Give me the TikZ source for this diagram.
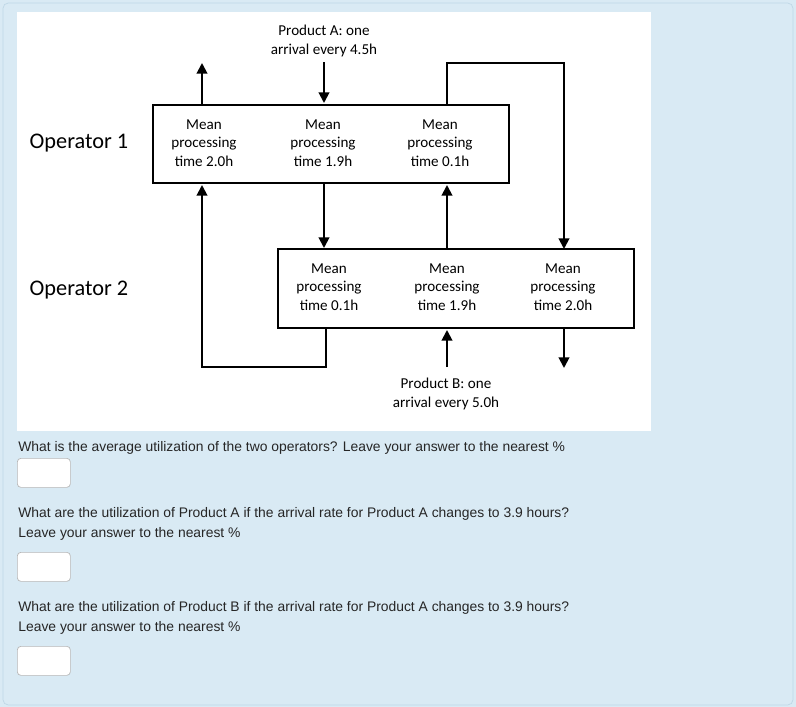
\documentclass[tikz,border=0pt]{standalone}
\usepackage{fontspec}
\setmainfont{Carlito}
\newfontfamily\qfont{Liberation Sans}
\usetikzlibrary{arrows.meta,positioning}
\definecolor{pagebg}{HTML}{D9EAF4}
\definecolor{pageedge}{HTML}{BFD7E6}
\definecolor{boxedge}{HTML}{B8B8B8}
\tikzset{
  box/.style={draw, thick, inner sep=0pt},
  txt/.style={align=center, font=\fontsize{8.6}{10.5}\selectfont, inner sep=0pt},
  oplabel/.style={font=\fontsize{12.7}{14}\selectfont, inner sep=0pt},
  flow/.style={line width=1.1pt, -{Triangle[length=6pt,width=6pt]}},
  question/.style={anchor=west, inner sep=0pt, align=left,
    font=\qfont\fontsize{7.9}{11.3}\selectfont, text=black!85},
  answer/.style={draw=boxedge, fill=white, rounded corners=2pt, minimum width=53*0.02cm,
    minimum height=29*0.02cm, anchor=north west, inner sep=0pt}
}
\begin{document}
\begin{tikzpicture}[x=0.02cm, y=-0.02cm]
    \useasboundingbox (0,0) rectangle (796,707);
    \fill[pagebg] (0,0) rectangle (796,707);
    \draw[pageedge, fill=pagebg, rounded corners=3pt] (3,3) rectangle (793,705);
    \fill[white] (17,12) rectangle (651,431);

    % operators
    \node[oplabel] (op1) at (79,143) {Operator 1};
    \node[oplabel] (op2) at (79,290) {Operator 2};

    \draw[box] (153,105) rectangle (509,183);
    \draw[box] (278,249) rectangle (634,328);

    % steps of operator 1
    \node[txt] (a1) at (204,143) {Mean\\processing\\time 2.0h};
    \node[txt] (a2) at (323,143) {Mean\\processing\\time 1.9h};
    \node[txt] (a3) at (440,143) {Mean\\processing\\time 0.1h};

    % steps of operator 2
    \node[txt] (b1) at (329,287) {Mean\\processing\\time 0.1h};
    \node[txt] (b2) at (447,287) {Mean\\processing\\time 1.9h};
    \node[txt] (b3) at (563,287) {Mean\\processing\\time 2.0h};

    % arrivals
    \node[txt] (pa) at (324,41) {Product A: one\\arrival every 4.5h};
    \node[txt] (pb) at (446,394) {Product B: one\\arrival every 5.0h};

    \coordinate (aIn) at (324,62);
    \coordinate (aTop1) at (324,103);
    \coordinate (aOut) at (202,105);
    \coordinate (aEnd) at (202,63);
    \coordinate (c1) at (324,183);
    \coordinate (c2) at (324,248);
    \coordinate (d1) at (447,249);
    \coordinate (d2) at (447,185);
    \coordinate (e1) at (447,105);
    \coordinate (e2) at (447,63);
    \coordinate (e3) at (564,63);
    \coordinate (e4) at (564,249);
    \coordinate (f1) at (326,328);
    \coordinate (f2) at (326,367);
    \coordinate (f3) at (202,367);
    \coordinate (f4) at (202,185);
    \coordinate (bIn) at (447,367);
    \coordinate (bTop) at (447,330);
    \coordinate (bOut) at (564,328);
    \coordinate (bEnd) at (564,368);

    \draw[flow] (aIn) -- (aTop1);
    \draw[flow] (aOut) -- (aEnd);
    \draw[flow] (c1) -- (c2);
    \draw[flow] (d1) -- (d2);
    \draw[flow] (e1) -- (e2) -- (e3) -- (e4);
    \draw[flow] (f1) -- (f2) -- (f3) -- (f4);
    \draw[flow] (bIn) -- (bTop);
    \draw[flow] (bOut) -- (bEnd);

    % questions
    \node[question] (q1) at (18,448) {What is the average utilization of the two operators? Leave your answer to the nearest \%};
    \node[answer] (ans1) at (17,458) {};
    \node[question] (q2) at (18,524) {What are the utilization of Product A if the arrival rate for Product A changes to 3.9 hours?\\Leave your answer to the nearest \%};
    \node[answer] (ans2) at (17,552) {};
    \node[question] (q3) at (18,618) {What are the utilization of Product B if the arrival rate for Product A changes to 3.9 hours?\\Leave your answer to the nearest \%};
    \node[answer] (ans3) at (17,646) {};
\end{tikzpicture}
\end{document}
